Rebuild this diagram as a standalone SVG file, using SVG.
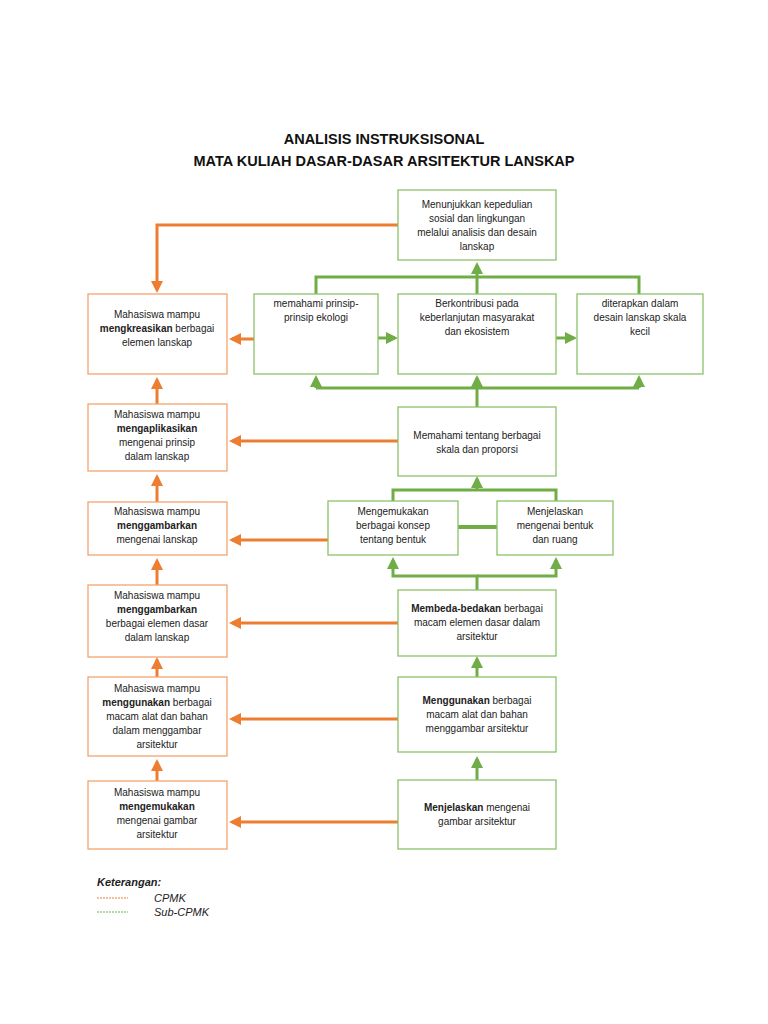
<svg xmlns="http://www.w3.org/2000/svg" width="768" height="1024" viewBox="0 0 768 1024">
<style>
text{font-family:"Liberation Sans",Arial,sans-serif;font-size:10px;fill:#222;text-anchor:middle}
.t{font-size:14.5px;font-weight:bold;fill:#111}
.o{fill:#fff;stroke:#F4A46E;stroke-width:1.3}
.g{fill:#fff;stroke:#8CC26A;stroke-width:1.3}
.co{fill:none;stroke:#ED7D31;stroke-width:3}
.cg{fill:none;stroke:#70AD47;stroke-width:3}
b,.b{font-weight:bold}
.l{text-anchor:start;font-style:italic;font-size:11px}
</style>
<defs>
<marker id="ao" markerWidth="4" markerHeight="4" refX="3" refY="2" orient="auto" markerUnits="strokeWidth"><path d="M0,0L4,2L0,4z" fill="#ED7D31"/></marker>
<marker id="ag" markerWidth="4" markerHeight="4" refX="3" refY="2" orient="auto" markerUnits="strokeWidth"><path d="M0,0L4,2L0,4z" fill="#70AD47"/></marker>
</defs>
<rect width="768" height="1024" fill="#fff"/>
<text class="t" x="384" y="144">ANALISIS INSTRUKSISONAL</text>
<text class="t" x="384" y="166">MATA KULIAH DASAR-DASAR ARSITEKTUR LANSKAP</text>
<g id="connectors">
<path class="co" d="M398,225H157V290" marker-end="url(#ao)"/>
<path class="co" d="M157,404V380" marker-end="url(#ao)"/>
<path class="co" d="M157,502V477" marker-end="url(#ao)"/>
<path class="co" d="M157,585V561" marker-end="url(#ao)"/>
<path class="co" d="M157,677V660" marker-end="url(#ao)"/>
<path class="co" d="M157,781V762" marker-end="url(#ao)"/>
<path class="co" d="M254,339H232" marker-end="url(#ao)"/>
<path class="co" d="M398,441H232" marker-end="url(#ao)"/>
<path class="co" d="M328,540H232" marker-end="url(#ao)"/>
<path class="co" d="M398,623H232" marker-end="url(#ao)"/>
<path class="co" d="M398,719H232" marker-end="url(#ao)"/>
<path class="co" d="M398,822H232" marker-end="url(#ao)"/>
<path class="cg" d="M316,294V277H639V294M477,294V265" marker-end="url(#ag)"/>
<path class="cg" d="M378,338H395" marker-end="url(#ag)"/>
<path class="cg" d="M556,338H574" marker-end="url(#ag)"/>
<path class="cg" d="M477,407V378" marker-end="url(#ag)"/>
<path class="cg" d="M316,388H639"/>
<path class="cg" d="M316,388V378" marker-end="url(#ag)"/>
<path class="cg" d="M639,388V378" marker-end="url(#ag)"/>
<path class="cg" d="M393,501V490H556V501M477,490V479" marker-end="url(#ag)"/>
<path class="cg" d="M458,527H497" style="stroke-width:4"/>
<path class="cg" d="M477,590V576H393V560" marker-end="url(#ag)"/>
<path class="cg" d="M477,576H556V560" marker-end="url(#ag)"/>
<path class="cg" d="M477,677V659" marker-end="url(#ag)"/>
<path class="cg" d="M477,780V759" marker-end="url(#ag)"/>
</g>
<g id="n1"><rect class="g" x="398" y="190" width="158" height="70"/><text x="477" y="208">Menunjukkan kepedulian</text><text x="477" y="222">sosial dan lingkungan</text><text x="477" y="236">melalui analisis dan desain</text><text x="477" y="250">lanskap</text></g>
<g id="l1"><rect class="o" x="88" y="294" width="139" height="80"/><text x="157" y="318">Mahasiswa mampu</text><text x="157" y="332"><tspan class="b">mengkreasikan</tspan> berbagai</text><text x="157" y="346">elemen lanskap</text></g>
<g id="a"><rect class="g" x="254" y="294" width="124" height="80"/><text x="316" y="307">memahami prinsip-</text><text x="316" y="321">prinsip ekologi</text></g>
<g id="b"><rect class="g" x="398" y="294" width="158" height="80"/><text x="477" y="307">Berkontribusi pada</text><text x="477" y="321">keberlanjutan masyarakat</text><text x="477" y="335">dan ekosistem</text></g>
<g id="c"><rect class="g" x="577" y="294" width="126" height="80"/><text x="640" y="307">diterapkan dalam</text><text x="640" y="321">desain lanskap skala</text><text x="640" y="335">kecil</text></g>
<g id="l2"><rect class="o" x="88" y="404" width="139" height="67"/><text x="157" y="418">Mahasiswa mampu</text><text x="157" y="432" class="b">mengaplikasikan</text><text x="157" y="446">mengenai prinsip</text><text x="157" y="460">dalam lanskap</text></g>
<g id="m"><rect class="g" x="398" y="407" width="158" height="69"/><text x="477" y="439">Memahami tentang berbagai</text><text x="477" y="453">skala dan proporsi</text></g>
<g id="l3"><rect class="o" x="88" y="502" width="139" height="53"/><text x="157" y="515">Mahasiswa mampu</text><text x="157" y="529" class="b">menggambarkan</text><text x="157" y="543">mengenai lanskap</text></g>
<g id="k"><rect class="g" x="328" y="501" width="130" height="54"/><text x="393" y="515">Mengemukakan</text><text x="393" y="529">berbagai konsep</text><text x="393" y="543">tentang bentuk</text></g>
<g id="j"><rect class="g" x="497" y="501" width="116" height="54"/><text x="555" y="515">Menjelaskan</text><text x="555" y="529">mengenai bentuk</text><text x="555" y="543">dan ruang</text></g>
<g id="l4"><rect class="o" x="88" y="585" width="139" height="72"/><text x="157" y="599">Mahasiswa mampu</text><text x="157" y="613" class="b">menggambarkan</text><text x="157" y="627">berbagai elemen dasar</text><text x="157" y="641">dalam lanskap</text></g>
<g id="mb"><rect class="g" x="398" y="590" width="158" height="66"/><text x="477" y="612"><tspan class="b">Membeda-bedakan</tspan> berbagai</text><text x="477" y="626">macam elemen dasar dalam</text><text x="477" y="640">arsitektur</text></g>
<g id="l5"><rect class="o" x="88" y="677" width="139" height="79"/><text x="157" y="692">Mahasiswa mampu</text><text x="157" y="706"><tspan class="b">menggunakan</tspan> berbagai</text><text x="157" y="720">macam alat dan bahan</text><text x="157" y="734">dalam menggambar</text><text x="157" y="748">arsitektur</text></g>
<g id="mg"><rect class="g" x="398" y="677" width="158" height="75"/><text x="477" y="704"><tspan class="b">Menggunakan</tspan> berbagai</text><text x="477" y="718">macam alat dan bahan</text><text x="477" y="732">menggambar arsitektur</text></g>
<g id="l6"><rect class="o" x="88" y="781" width="139" height="68"/><text x="157" y="796">Mahasiswa mampu</text><text x="157" y="810" class="b">mengemukakan</text><text x="157" y="824">mengenai gambar</text><text x="157" y="838">arsitektur</text></g>
<g id="mj"><rect class="g" x="398" y="780" width="158" height="69"/><text x="477" y="811"><tspan class="b">Menjelaskan</tspan> mengenai</text><text x="477" y="825">gambar arsitektur</text></g>
<g id="legend">
<text class="l b" x="97" y="886">Keterangan:</text>
<line x1="97" y1="898" x2="128" y2="898" stroke="#ED7D31" stroke-width="1" stroke-dasharray="2,1"/>
<line x1="97" y1="912" x2="128" y2="912" stroke="#70AD47" stroke-width="1" stroke-dasharray="2,1"/>
<text class="l" x="154" y="902">CPMK</text>
<text class="l" x="154" y="916">Sub-CPMK</text>
</g>
</svg>
